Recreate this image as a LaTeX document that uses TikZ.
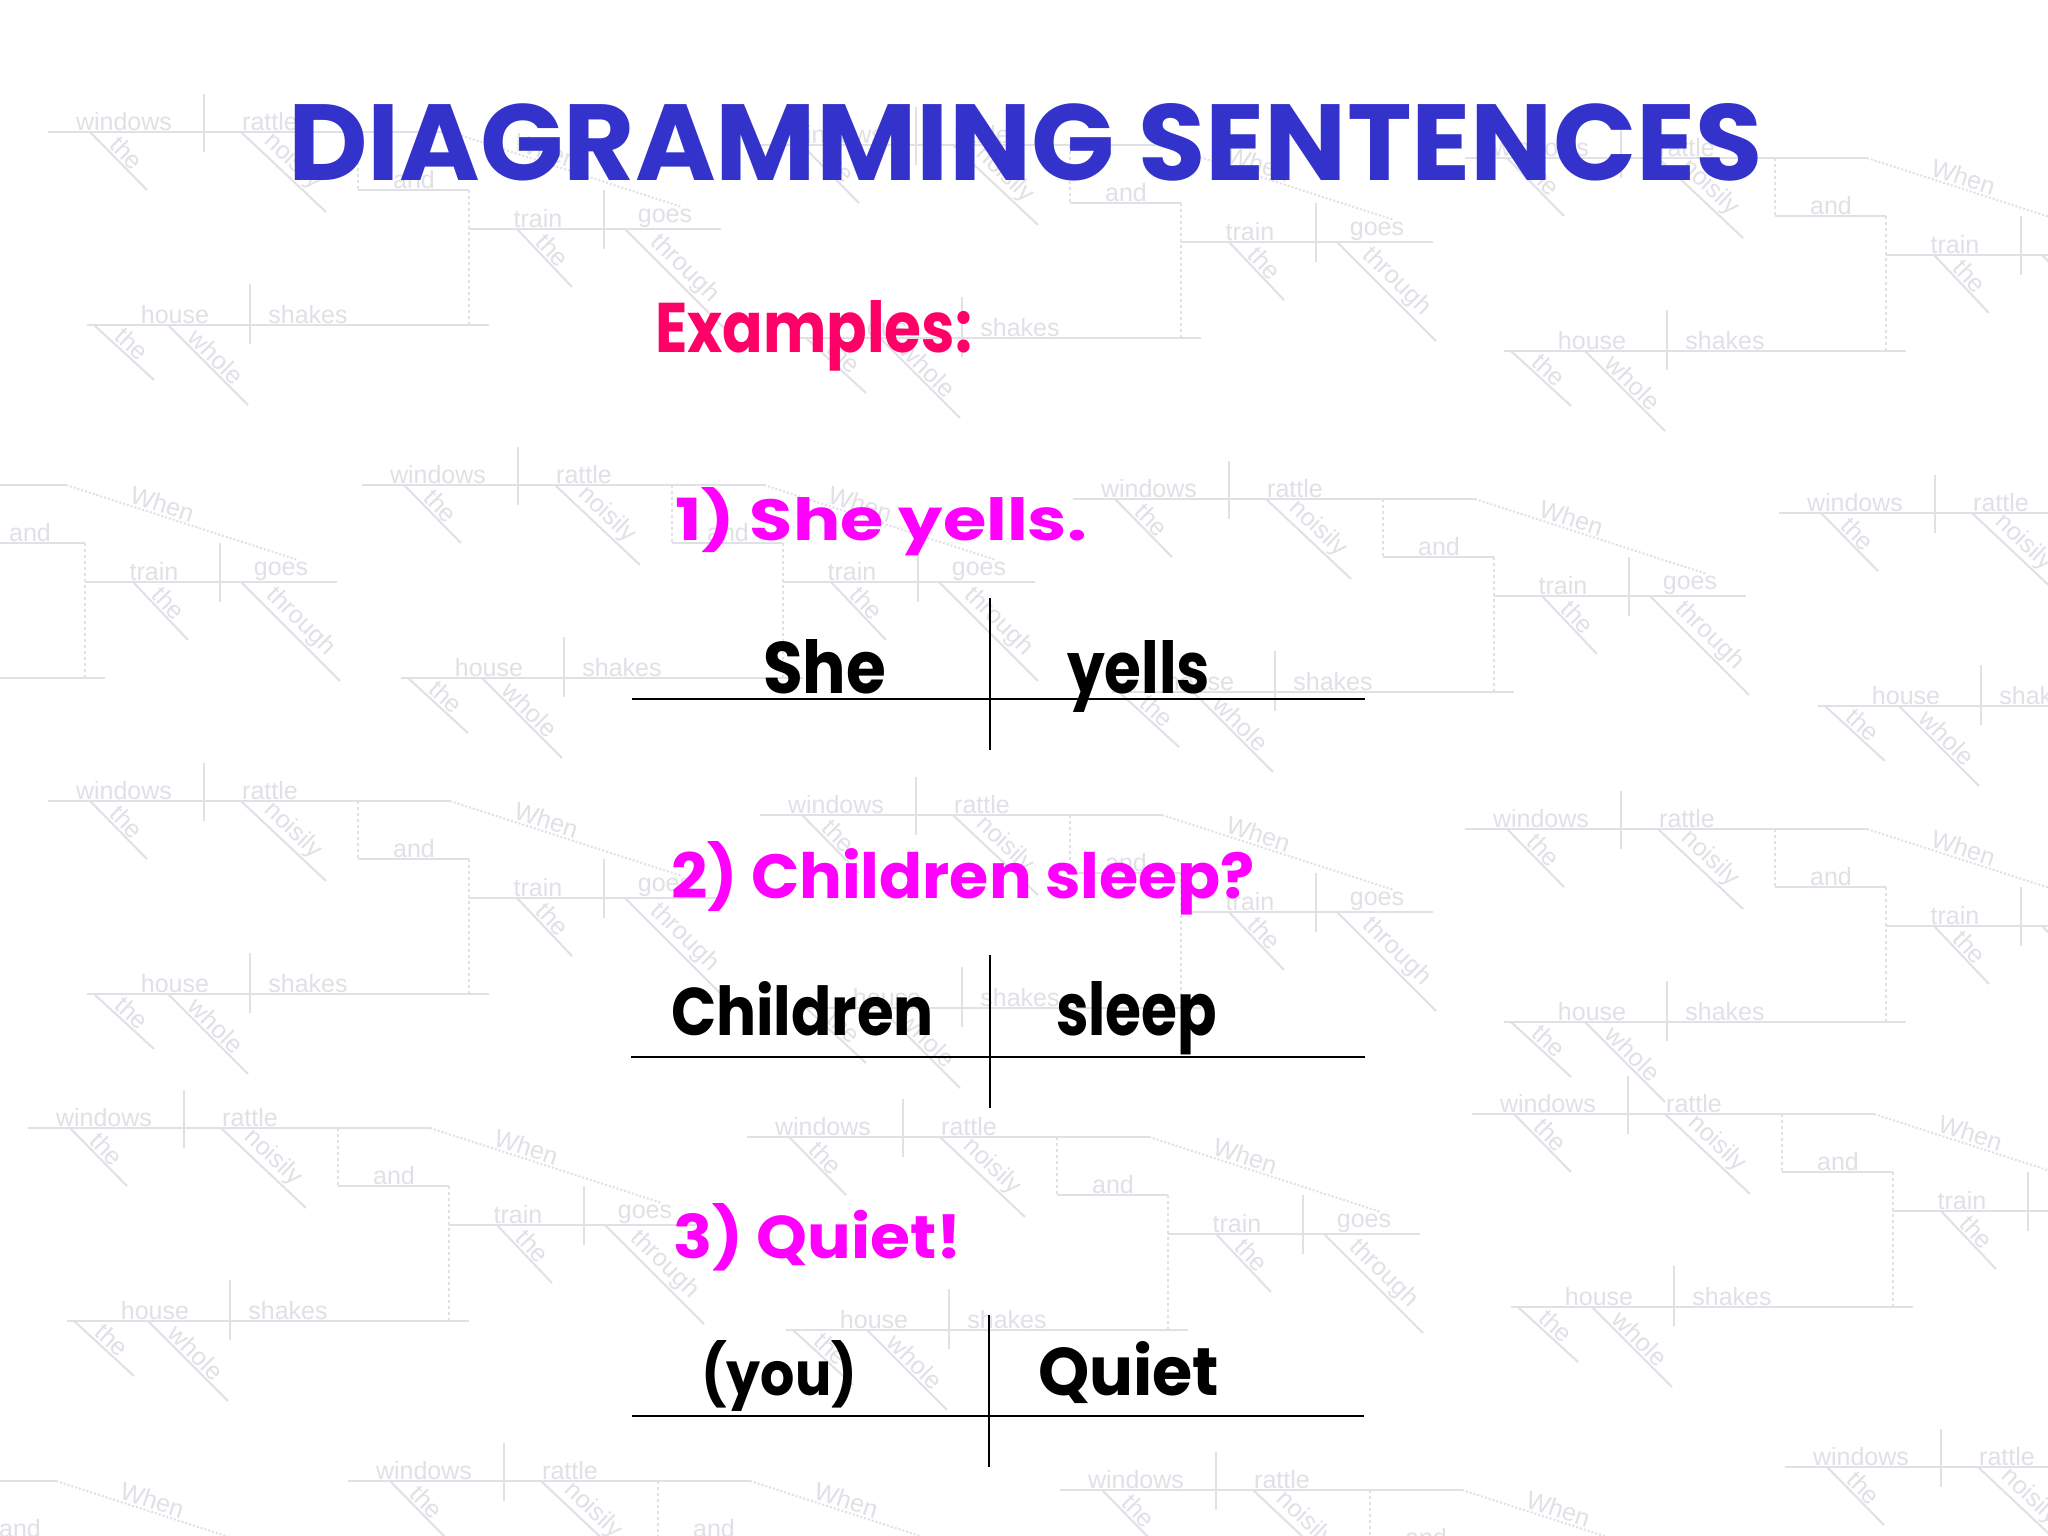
\documentclass[tikz,border=0pt]{standalone}
\usepackage{fontspec}
\setmainfont{Poppins}
\newfontfamily\bgfont{Liberation Sans}
\usepackage{graphicx}
\definecolor{titleblue}{RGB}{51,51,204}
\definecolor{exred}{RGB}{255,0,102}
\definecolor{exmag}{RGB}{255,0,255}
\definecolor{bgc}{RGB}{224,224,230}
\newcommand{\fitto}[3]{\resizebox{#1pt}{#2pt}{\fontsize{60}{60}\selectfont\bfseries #3}}
\tikzset{
  txt/.style={anchor=base west, inner sep=0pt, outer sep=0pt},
  diagline/.style={draw=black, line width=2.8pt},
  bgline/.style={draw=bgc, line width=2pt},
  bgtext/.style={text=bgc, font=\bgfont\fontsize{25}{25}\selectfont, inner sep=1.5pt},
  bgtile/.pic={
    % first clause
    \draw[bgline] (-76,0) -- (326,0);
    \draw[bgline] (80,-38) -- (80,20);
    \node[bgtext, above] at (0,0) {windows};
    \node[bgtext, above] at (146,0) {rattle};
    \draw[bgline] (-34,0) -- (23,58) node[bgtext, midway, sloped, above] {the};
    \draw[bgline] (117,0) -- (202,80) node[bgtext, midway, sloped, above] {noisily};
    % conjunction
    \draw[bgline, dashed] (234,0) -- (234,58);
    \draw[bgline] (234,58) -- (345,58);
    \node[bgtext, above] at (290,58) {and};
    \draw[bgline, dashed] (345,58) -- (345,193);
    % When
    \draw[bgline, dotted] (326,0) -- (558,75) node[bgtext, pos=0.4, sloped, above] {When};
    % second clause
    \draw[bgline] (345,97) -- (597,97);
    \draw[bgline] (480,58) -- (480,117);
    \node[bgtext, above] at (414,97) {train};
    \node[bgtext, above] at (541,97) {goes};
    \draw[bgline] (393,97) -- (448,155) node[bgtext, midway, sloped, above] {the};
    \draw[bgline] (501,97) -- (600,196) node[bgtext, midway, sloped, above] {through};
    % main clause
    \draw[bgline] (-37,193) -- (365,193);
    \draw[bgline] (126,152) -- (126,212);
    \node[bgtext, above] at (51,193) {house};
    \node[bgtext, above] at (184,193) {shakes};
    \draw[bgline] (-30,193) -- (30,248) node[bgtext, midway, sloped, above] {the};
    \draw[bgline] (44,193) -- (124,273) node[bgtext, midway, sloped, above] {whole};
  }
}
\begin{document}
\begin{tikzpicture}[x=1pt, y={(0pt,-1pt)}]
\useasboundingbox (0,0) rectangle (2048,1536);
\clip (0,0) rectangle (2048,1536);
\fill[white] (0,0) rectangle (2048,1536);
% faint background pattern
\foreach \px/\py in {124/132, 438/485, 124/801, 104/1128, 424/1481,
                     836/145, 1149/499, 836/815, 823/1137, 1136/1490,
                     1541/158, 1855/513, 1541/829, 1548/1114, 1861/1467,
                     -260/485, -270/1481}
  \pic at (\px,\py) {bgtile};
% title and headings
\node[txt, text=titleblue] (title) at (288,180) {\fitto{1475}{77}{DIAGRAMMING SENTENCES}};
\node[txt, text=exred] (examples) at (655,352) {\fitto{317}{52}{Examples:}};
\node[txt, text=exmag] (ex1) at (675,540) {\fitto{412}{53}{1) She yells.}};
\node[txt, text=exmag] (ex2) at (671,898) {\fitto{584}{57}{2) Children sleep?}};
\node[txt, text=exmag] (ex3) at (673,1258) {\fitto{289}{55}{3) Quiet!}};
% diagram 1
\node[txt] (she) at (763,693) {\fitto{123}{54}{She}};
\node[txt] (yells) at (1067,693) {\fitto{143}{53}{yells}};
\coordinate (a1) at (632,699); \coordinate (b1) at (1365,699);
\coordinate (c1) at (990,598); \coordinate (d1) at (990,750);
\draw[diagline] (a1) -- (b1);
\draw[diagline] (c1) -- (d1);
% diagram 2
\node[txt] (children) at (671,1035) {\fitto{263}{54}{Children}};
\node[txt] (sleep) at (1056,1035) {\fitto{161}{54}{sleep}};
\coordinate (a2) at (631,1057); \coordinate (b2) at (1365,1057);
\coordinate (c2) at (990,955); \coordinate (d2) at (990,1108);
\draw[diagline] (a2) -- (b2);
\draw[diagline] (c2) -- (d2);
% diagram 3
\node[txt] (you) at (701,1395) {\fitto{156}{55}{(you)}};
\node[txt] (quiet) at (1038,1395) {\fitto{181}{54}{Quiet}};
\coordinate (a3) at (632,1416); \coordinate (b3) at (1364,1416);
\coordinate (c3) at (989,1315); \coordinate (d3) at (989,1467);
\draw[diagline] (a3) -- (b3);
\draw[diagline] (c3) -- (d3);
\end{tikzpicture}
\end{document}
